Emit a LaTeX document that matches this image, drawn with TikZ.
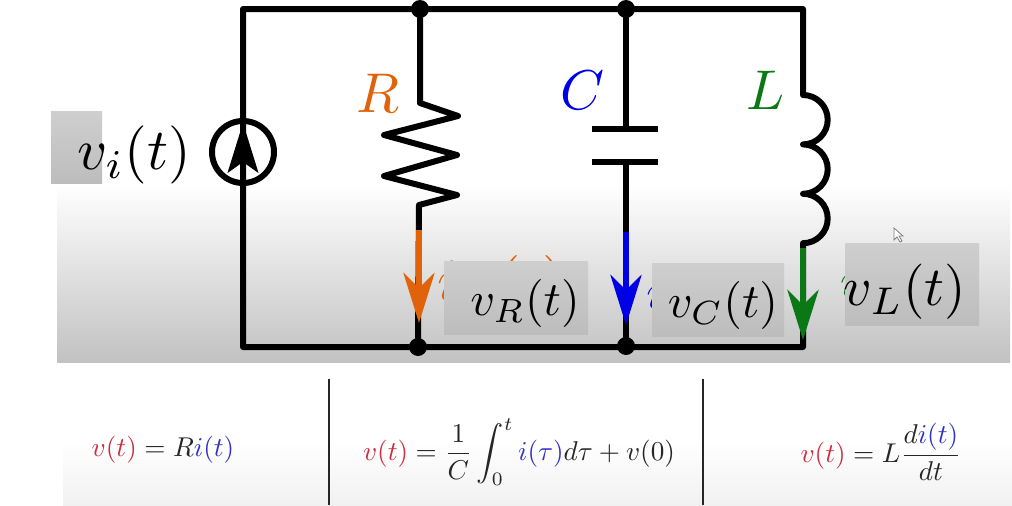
\documentclass[tikz,border=0pt]{standalone}
\usepackage{amsmath}
\usetikzlibrary{arrows.meta}
\definecolor{rOrange}{RGB}{224,98,10}
\definecolor{cBlue}{RGB}{0,0,230}
\definecolor{lGreen}{RGB}{10,120,20}
\definecolor{eqRed}{RGB}{205,45,65}
\definecolor{eqBlue}{RGB}{50,50,200}
\tikzset{
  wire/.style={line width=6pt,line cap=round,line join=round},
  dot/.style={circle,fill=black,inner sep=0pt,minimum size=18pt},
  courant/.style={line width=6pt,-{Stealth[length=50pt,width=31pt,inset=15pt]}},
  greybox/.style={top color=gray!38,bottom color=gray!52,draw=none},
  big/.style={scale=4.8,inner sep=0pt},
  elem/.style={scale=5.6,inner sep=0pt},
  eq/.style={scale=2.72,inner sep=0pt},
}
\begin{document}
\begin{tikzpicture}[x=1pt,y=-1pt] % ------ Le circuit RLC ----------------
    \useasboundingbox (0,0) rectangle (1012,506);
    \fill [white] (0,0) rectangle (1012,506);
    \shade [top color=white,bottom color=gray!48] (57,184) rectangle (1010,362);
    \shade [top color=white,bottom color=gray!11] (63,440) rectangle (1012,506);
    % courants caches
    \node [scale=6,inner sep=0pt,rOrange] (iR) at (502,285) {$i_R(t)$};
    \node [big,cBlue] (iC) at (698,296) {$i_C(t)$};
    \node [big,lGreen] (iL) at (890,284) {$i_L(t)$};
    % caches gris
    \shade [greybox] (51,111) rectangle (102,183);
    \shade [greybox] (444,261) rectangle (588,334);
    \shade [greybox] (652,263) rectangle (784,336);
    \shade [greybox] (845,243) rectangle (979,325);
    % les noeuds
    \node [dot] (hautR) at (420,9) {};
    \node [dot] (hautC) at (626,9) {};
    \node [dot] (basR) at (418,347) {};
    \node [dot] (basC) at (626,346) {};
    \coordinate (hautG) at (243,9);
    \coordinate (basG) at (243,347);
    \coordinate (hautD) at (803,9);
    \coordinate (basD) at (803,347);
    % le circuit
    \draw [wire] (basG)--(hautG)--(hautR)--(hautC)--(hautD)--(803,95)
      arc [start angle=90,end angle=-90,radius=24.7pt]
      arc [start angle=90,end angle=-90,radius=24.7pt]
      arc [start angle=90,end angle=-90,radius=24.7pt]
      --(basD)--(basR)--(basG);
    \draw [wire] (hautR)--(420,103)--(458,116)--(384,135)--(457,155)--(384,176)--(457,195)--(419,205)--(basR);
    \draw [wire] (hautC)--(626,129) (626,162)--(basC);
    \draw [wire,line cap=butt] (592,129)--(658,129);
    \draw [wire,line cap=butt] (592,162)--(658,162);
    % la source
    \node [circle,draw,line width=6pt,inner sep=0pt,minimum size=62pt] (source) at (243,152) {};
    \coordinate (sourceB) at (243,173);
    \coordinate (sourceH) at (243,123);
    \draw [line width=1pt,-{Stealth[length=50pt,width=31pt,inset=11pt]}] (sourceB)--(sourceH);
    % les courants
    \coordinate (fR) at (419,323);
    \coordinate (fC) at (626,325);
    \coordinate (fL) at (803,340);
    \draw [courant,rOrange] (419,230)--(fR);
    \draw [courant,cBlue] (626,232)--(fC);
    \draw [courant,lGreen] (803,248)--(fL);
    % les noms
    \node [elem,rOrange] (nomR) at (378,93) {$R$};
    \node [elem,cBlue] (nomC) at (583,90) {$C$};
    \node [elem,lGreen] (nomL) at (766,90) {$L$};
    \node [elem,scale=1.04] (vi) at (134,155) {$v_i(t)$};
    \node [big] (vR) at (525,303) {$v_R(t)$};
    \node [big] (vC) at (723,305) {$v_C(t)$};
    \node [big,scale=1.15] (vL) at (905,292) {$v_L(t)$};
    % le curseur
    \draw [gray,fill=white,line width=.8pt] (894,228)--(894,240)--(897,237)--(900,242)--(902,241)--(899,236)--(903,236)--cycle;
    % les equations
    \node [circle,inner sep=0pt] (sep1h) at (329,378) {};
    \node [circle,inner sep=0pt] (sep1b) at (329,506) {};
    \node [circle,inner sep=0pt] (sep2h) at (703,378) {};
    \node [circle,inner sep=0pt] (sep2b) at (703,506) {};
    \draw [line width=1.3pt,black!85] (sep1h)--(sep1b);
    \draw [line width=1.3pt,black!85] (sep2h)--(sep2b);
    \node [eq] (eqR) at (163,450) {$\color{eqRed}v(t)\color{black!85}=R\color{eqBlue}i(t)$};
    \node [eq] (eqC) at (519,452) {$\color{eqRed}v(t)\color{black!85}=\dfrac{1}{C}\displaystyle\int_0^t \color{eqBlue}i(\tau)\color{black!85}d\tau+v(0)$};
    \node [eq] (eqL) at (881,452) {$\color{eqRed}v(t)\color{black!85}=L\dfrac{d\color{eqBlue}i(t)}{\color{black!85}dt}$};
\end{tikzpicture}
\end{document}
